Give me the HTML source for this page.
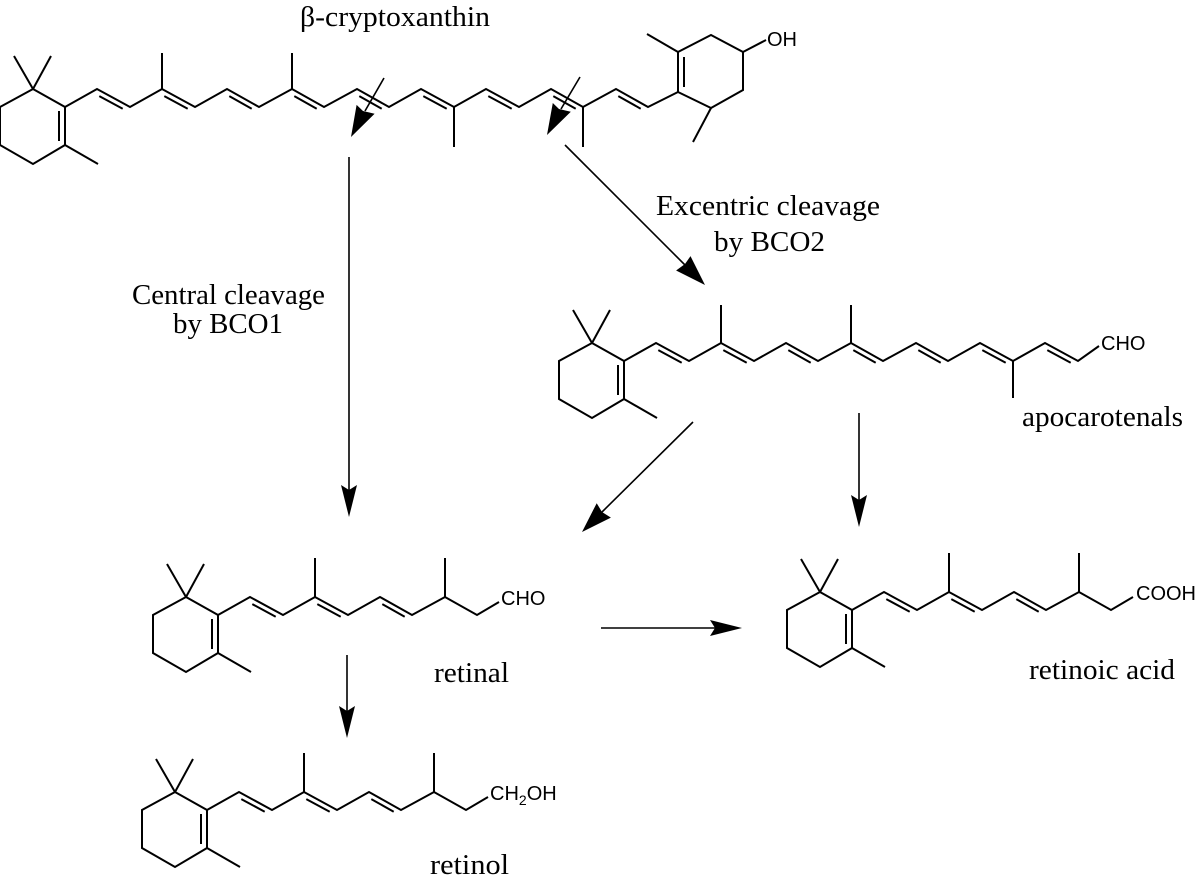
<!DOCTYPE html>
<html><head><meta charset="utf-8"><style>
html,body{margin:0;padding:0;background:#fff;}
svg{display:block;}
.s{font-family:"Liberation Serif",serif;font-size:28px;fill:#000;}
.c{font-family:"Liberation Sans",sans-serif;font-size:20px;fill:#000;}
</style></head><body>
<svg width="1200" height="876" viewBox="0 0 1200 876" xmlns="http://www.w3.org/2000/svg">
<defs>
<g id="ring" fill="none" stroke="#000" stroke-width="2">
<polyline points="0,0 -33,18 -33,56 0,75 32,56 32,18 0,0"/>
<line x1="26" y1="22" x2="26" y2="52"/>
<line x1="0" y1="0" x2="-19" y2="-33"/>
<line x1="0" y1="0" x2="18" y2="-33"/>
<line x1="32" y1="56" x2="65" y2="75"/>
</g>
<g id="ret" fill="none" stroke="#000" stroke-width="2">
<use href="#ring"/>
<polyline points="32,18 64,0 97,18 129,0 162,18 194,0 226,18 259,0 291,18 313,5"/>
<line x1="66.3" y1="7.1" x2="89.7" y2="19.7"/>
<line x1="131.3" y1="7.1" x2="154.7" y2="19.7"/>
<line x1="196.3" y1="7.1" x2="218.7" y2="19.7"/>
<line x1="129" y1="0" x2="129" y2="-39"/>
<line x1="259" y1="0" x2="259" y2="-39"/>
</g>
</defs>

<!-- beta-cryptoxanthin -->
<g transform="translate(33,89)" fill="none" stroke="#000" stroke-width="2">
<use href="#ring"/>
<polyline points="32,18 64,0 97,18 129,0 162,18 194,0 226,18 259,0 291,18 324,0 356,18 388,0 421,18 453,0 486,18 518,0 550,18 583,0 615,18 645,3"/>
<line x1="66.3" y1="7.1" x2="89.7" y2="19.7"/>
<line x1="131.3" y1="7.1" x2="154.7" y2="19.7"/>
<line x1="196.3" y1="7.1" x2="218.7" y2="19.7"/>
<line x1="261.3" y1="7.1" x2="283.7" y2="19.7"/>
<line x1="326.3" y1="7.1" x2="348.7" y2="19.7"/>
<line x1="390.3" y1="7.1" x2="413.7" y2="19.7"/>
<line x1="455.3" y1="7.1" x2="478.7" y2="19.7"/>
<line x1="520.3" y1="7.1" x2="542.7" y2="19.7"/>
<line x1="585.3" y1="7.1" x2="607.7" y2="19.7"/>
<line x1="129" y1="0" x2="129" y2="-36"/>
<line x1="259" y1="0" x2="259" y2="-36"/>
<line x1="421" y1="18" x2="421" y2="58"/>
<line x1="550" y1="18" x2="550" y2="58"/>
</g>
<g fill="none" stroke="#000" stroke-width="2">
<polyline points="678,92 678,52 711,35 743,52 743,90 711,108 678,92"/>
<line x1="684" y1="57" x2="684" y2="87"/>
<line x1="678" y1="52" x2="647" y2="34"/>
<line x1="711" y1="108" x2="693" y2="142"/>
<line x1="743" y1="52" x2="766" y2="40"/>
</g>
<text class="c" x="767" y="46" font-size="22">OH</text>
<text class="s" x="300" y="26" textLength="190" lengthAdjust="spacingAndGlyphs">β-cryptoxanthin</text>

<!-- apocarotenal -->
<g transform="translate(592,343)" fill="none" stroke="#000" stroke-width="2">
<use href="#ring"/>
<polyline points="32,18 64,0 97,18 129,0 162,18 194,0 226,18 259,0 291,18 324,0 356,18 388,0 421,18 453,0 486,18 507,3"/>
<line x1="66.3" y1="7.1" x2="89.7" y2="19.7"/>
<line x1="131.3" y1="7.1" x2="154.7" y2="19.7"/>
<line x1="196.3" y1="7.1" x2="218.7" y2="19.7"/>
<line x1="261.3" y1="7.1" x2="283.7" y2="19.7"/>
<line x1="326.3" y1="7.1" x2="348.7" y2="19.7"/>
<line x1="390.3" y1="7.1" x2="413.7" y2="19.7"/>
<line x1="455.3" y1="7.1" x2="478.7" y2="19.7"/>
<line x1="129" y1="0" x2="129" y2="-38"/>
<line x1="259" y1="0" x2="259" y2="-38"/>
<line x1="421" y1="18" x2="421" y2="55"/>
</g>
<text class="c" x="1101" y="350">CHO</text>
<text class="s" x="1022" y="426" textLength="161" lengthAdjust="spacingAndGlyphs">apocarotenals</text>

<!-- retinal -->
<use href="#ret" transform="translate(186,597)"/>
<text class="c" x="501" y="605">CHO</text>
<text class="s" x="434" y="682" textLength="75" lengthAdjust="spacingAndGlyphs">retinal</text>

<!-- retinol -->
<use href="#ret" transform="translate(175,792)"/>
<text class="c" x="490" y="800">CH<tspan font-size="14" dy="5">2</tspan><tspan dy="-5">OH</tspan></text>
<text class="s" x="430" y="874" textLength="79" lengthAdjust="spacingAndGlyphs">retinol</text>

<!-- retinoic acid -->
<use href="#ret" transform="translate(820,592)"/>
<text class="c" x="1136" y="600">COOH</text>
<text class="s" x="1029" y="679" textLength="146" lengthAdjust="spacingAndGlyphs">retinoic acid</text>

<!-- labels -->
<text class="s" x="132" y="304" textLength="193" lengthAdjust="spacingAndGlyphs">Central cleavage</text>
<text class="s" x="173" y="333" textLength="110" lengthAdjust="spacingAndGlyphs">by BCO1</text>
<text class="s" x="656" y="215" textLength="224" lengthAdjust="spacingAndGlyphs">Excentric cleavage</text>
<text class="s" x="714" y="251" textLength="111" lengthAdjust="spacingAndGlyphs">by BCO2</text>

<!-- arrows -->
<g stroke="#000" stroke-width="1.6" fill="none">
<line x1="384" y1="78" x2="365" y2="111"/>
<line x1="580" y1="77" x2="561" y2="109"/>
<line x1="349" y1="157" x2="349" y2="490"/>
<line x1="565" y1="145" x2="685" y2="265"/>
<line x1="693" y1="422" x2="602" y2="512"/>
<line x1="859" y1="413" x2="859" y2="500"/>
<line x1="601" y1="628" x2="715" y2="628"/>
<line x1="347" y1="655" x2="347" y2="711"/>
</g>
<g fill="#000">
<polygon points="351,137 374.6,113.7 363,111 356.6,104.9"/>
<polygon points="547,135 570.8,111.8 559,109 552.8,103"/>
<polygon points="349,517 357,485 349,490 341,485"/>
<polygon points="705,285 676.1,270.5 685,264 690.5,256.1"/>
<polygon points="582,532 610.9,517.6 602,512 596.7,503.2"/>
<polygon points="859,527 867,495 859,500 851,495"/>
<polygon points="742,628 710,620 715,628 710,636"/>
<polygon points="347,738 355,706 347,711 339,706"/>
</g>
</svg>
</body></html>
